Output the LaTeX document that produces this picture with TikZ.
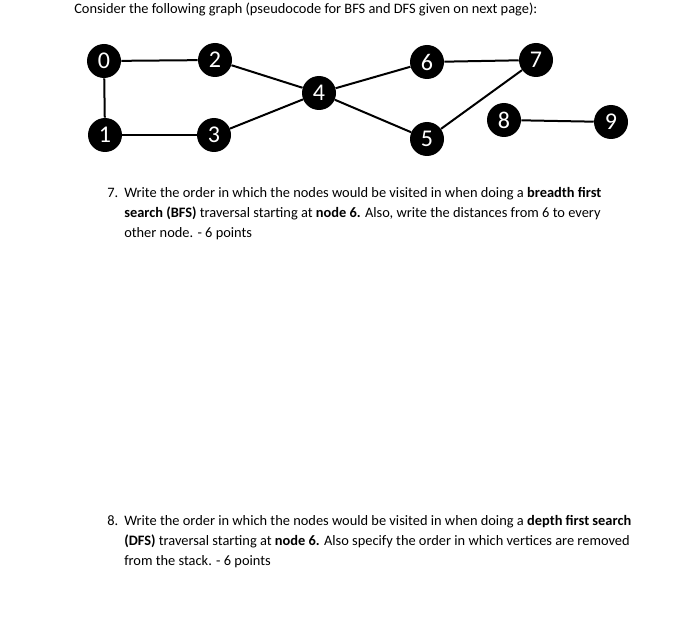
\documentclass[tikz,border=0pt]{standalone}
\usepackage{fontspec}
\setmainfont{Carlito}

\begin{document}
\begin{tikzpicture}[x=0.75pt, y=-0.75pt, vertex/.style={circle, fill=black, inner sep=0pt, minimum size=25.5pt, text=white, font=\fontsize{18}{18}\selectfont}, edge/.style={line width=1.5pt}, txt/.style={anchor=base west, inner sep=0pt, font=\fontsize{10.8}{15}\selectfont, align=left}]
\useasboundingbox (0,0) rectangle (699,631);
\node[txt] (title) at (74,14) {Consider the following graph (pseudocode for BFS and DFS given on next page):};
\node[vertex] (n0) at (104,61) {0};
\node[vertex] (n1) at (105,135) {1};
\node[vertex] (n2) at (215,60) {2};
\node[vertex] (n3) at (214,135) {3};
\node[vertex] (n4) at (319,93) {4};
\node[vertex] (n5) at (427,139) {5};
\node[vertex] (n6) at (427,62) {6};
\node[vertex] (n7) at (536,60) {7};
\node[vertex] (n8) at (504,120) {8};
\node[vertex] (n9) at (611,122) {9};
\draw[edge] (n0) -- (n2); \draw[edge] (n0) -- (n1); \draw[edge] (n1) -- (n3); \draw[edge] (n2) -- (n4); \draw[edge] (n3) -- (n4); \draw[edge] (n4) -- (n6); \draw[edge] (n4) -- (n5); \draw[edge] (n6) -- (n7); \draw[edge] (n5) -- (n7); \draw[edge] (n8) -- (n9);
% the base anchor of a multi-line node is its last line
\node[txt] (q7num) at (107,197) {7.};
\node[txt] (q7) at (124,237) {Write the order in which the nodes would be visited in when doing a \textbf{breadth first}\\\textbf{search (BFS)} traversal starting at \textbf{node 6.} Also, write the distances from 6 to every\\other node. - 6 points};
\node[txt] (q8num) at (107,525) {8.};
\node[txt] (q8) at (124,565) {Write the order in which the nodes would be visited in when doing a \textbf{depth first search}\\\textbf{(DFS)} traversal starting at \textbf{node 6.} Also specify the order in which vertices are removed\\from the stack. - 6 points};
\end{tikzpicture}
\end{document}
